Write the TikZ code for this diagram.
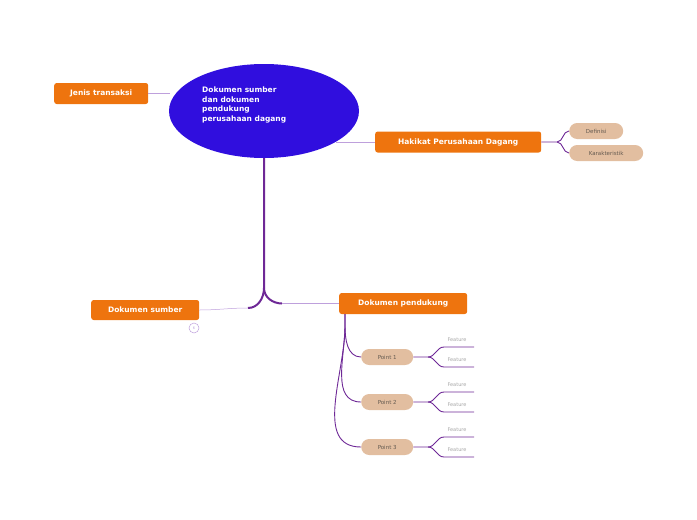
\documentclass[tikz,border=0pt]{standalone}
\usepackage{fontspec}
\setmainfont{DejaVu Sans}
\usetikzlibrary{shapes.geometric}
\begin{document}
\begin{tikzpicture}[x=1pt,y=-1pt,
  box/.style={fill=orange1,rounded corners=2.5pt,text=white,font=\fontsize{7.5}{9}\selectfont\bfseries,inner sep=0pt,minimum height=21pt,anchor=west},
  pill/.style={fill=tan1,rounded corners=8pt,text=gray1,font=\fontsize{5.5}{6}\selectfont,minimum height=16pt,inner sep=0pt,anchor=west},
  feat/.style={text=gray!70,font=\fontsize{5}{6}\selectfont,inner sep=0pt},
  thin/.style={draw=purple2,line width=0.5pt},
  mid/.style={draw=purple1,line width=0.9pt},
  thick/.style={draw=purple1,line width=2pt}]
\definecolor{orange1}{RGB}{238,116,14}
\definecolor{tan1}{RGB}{226,190,160}
\definecolor{gray1}{RGB}{100,90,80}
\definecolor{purple1}{RGB}{110,40,150}
\definecolor{purple2}{RGB}{190,160,220}
\definecolor{blue1}{RGB}{48,14,222}
\useasboundingbox (0,0) rectangle (697,520);
\node[ellipse,fill=blue1,minimum width=190pt,minimum height=94pt,inner sep=0pt] (c) at (264,111) {};
\node[text=white,font=\fontsize{7.5}{9.5}\selectfont\bfseries,align=left,anchor=north west,inner sep=0pt] (ct) at (202,87) {Dokumen sumber\\dan dokumen\\pendukung\\perusahaan dagang};
\node[box,minimum width=94pt] (jt) at (54,93.5) {Jenis transaksi};
\node[box,minimum width=166pt] (hk) at (375,142) {Hakikat Perusahaan Dagang};
\node[box,minimum width=108pt,minimum height=20pt] (ds) at (91,310) {Dokumen sumber};
\node[box,minimum width=128pt] (dp) at (339,303.5) {Dokumen pendukung};
\node[pill,minimum width=54pt] (def) at (569,131) {Definisi};
\node[pill,minimum width=74pt] (kar) at (569,153) {Karakteristik};
\draw[thin] (jt.east) -- (170,93.5);
\draw[thin] (336,142) -- (hk.west);
\draw[mid] (hk.east) -- (557,142) to[out=0,in=180] (def.west);
\draw[mid] (557,142) to[out=0,in=180] (kar.west);
\draw[thick] (264,158) -- (264,288) to[out=270,in=0] (248,308);
\draw[thin] (248,308) to[out=180,in=0] (ds.east);
\draw[thick] (264,288) to[out=270,in=180] (282,303.5);
\draw[thin] (282,303.5) -- (dp.west);
\draw[purple2,line width=0.5pt] (194,328) circle (5pt);
\node[font=\fontsize{3.5}{4}\selectfont,text=purple2,inner sep=0pt] (six) at (194,328) {6};
\foreach \i/\y in {1/357,2/402,3/447}{
  \node[pill,minimum width=52pt] (p\i) at (361,\y) {Point \i};
  \draw[mid] (345,314) -- (345,326) to[out=270,in=180] (p\i.west);
  \draw[mid] (p\i.east) -- (428,\y) to[out=0,in=180] (444,\y-10) -- (474,\y-10);
  \draw[mid] (428,\y) to[out=0,in=180] (444,\y+10) -- (474,\y+10);
  \node[feat] (fa\i) at (457,\y-17) {Feature};
  \node[feat] (fb\i) at (457,\y+3) {Feature};
}
\end{tikzpicture}
\end{document}
